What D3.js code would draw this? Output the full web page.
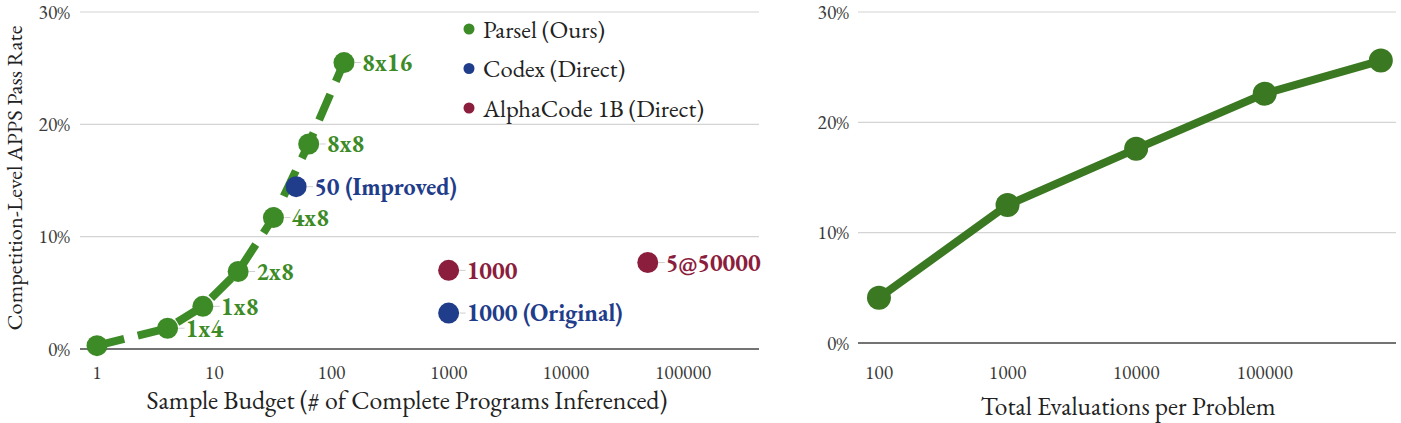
<!DOCTYPE html>
<html>
<head>
<meta charset="utf-8">
<script src="https://cdn.jsdelivr.net/npm/d3@7"></script>
<style>
  html, body { margin: 0; padding: 0; background: #fff; }
  svg { display: block; font-family: "EB Garamond", Garamond, "Liberation Serif", serif; }
</style>
</head>
<body>
<svg id="chart" width="1401" height="423"></svg>
<script>
  // left panel data
  var parselBudget = [1, 4, 8, 16, 32, 64, 128];
  var parselRate = [0.003, 0.0185, 0.038, 0.069, 0.117, 0.1825, 0.255];
  var parselLabels = ["", "1x4", "1x8", "2x8", "4x8", "8x8", "8x16"];

  var codexBudget = [50, 1000];
  var codexRate = [0.1445, 0.032];
  var codexLabels = ["50 (Improved)", "1000 (Original)"];

  var alphaBudget = [1000, 50000];
  var alphaRate = [0.070, 0.077];
  var alphaLabels = ["1000", "5@50000"];

  var leftTicksX = [1, 10, 100, 1000, 10000, 100000];
  var yTicks = [0, 0.1, 0.2, 0.3];

  var legendNames = ["Parsel (Ours)", "Codex (Direct)", "AlphaCode 1B (Direct)"];

  // right panel data
  var evalTotals = [100, 1000, 10000, 100000, 800000];
  var evalRate = [0.041, 0.125, 0.176, 0.226, 0.256];
  var rightTicksX = [100, 1000, 10000, 100000];

  var green = "#3d8b27", blue = "#1f3d8a", crimson = "#8b1d3d", darkGreen = "#3a7821";
  var legendColors = [green, blue, crimson];

  var svg = d3.select("#chart");
  var pct = function(d){ return Math.round(d * 100) + "%"; };

  //---------------- left chart ----------------
  var xL = d3.scaleLog().domain([0.716, 444600]).range([80, 759]);
  var yL = d3.scaleLinear().domain([0, 0.30]).range([349, 12]);

  var gL = svg.append("g");

  gL.selectAll("line.grid").data(yTicks.slice(1)).enter().append("line")
    .attr("class", "grid")
    .attr("x1", xL.range()[0]).attr("x2", xL.range()[1])
    .attr("y1", yL).attr("y2", yL)
    .style("stroke", "#d4d4d4").style("stroke-width", 1.2);

  gL.append("line")
    .attr("x1", xL.range()[0]).attr("x2", xL.range()[1])
    .attr("y1", yL(0)).attr("y2", yL(0))
    .style("stroke", "#444").style("stroke-width", 1.5);

  gL.selectAll("text.ytick").data(yTicks).enter().append("text")
    .attr("x", 70).attr("y", yL).attr("dy", "0.35em")
    .attr("text-anchor", "end")
    .attr("font-size", "19.5px").attr("fill", "#3a3a3a")
    .text(pct);

  gL.selectAll("text.xtick").data(leftTicksX).enter().append("text")
    .attr("x", xL).attr("y", 372).attr("dy", "0.35em")
    .attr("text-anchor", "middle")
    .attr("font-size", "19.5px").attr("fill", "#3a3a3a")
    .text(function(d){ return d; });

  gL.append("text")
    .attr("x", 407).attr("y", 400).attr("dy", "0.35em")
    .attr("text-anchor", "middle").attr("font-size", "25.8px").attr("fill", "#222")
    .text("Sample Budget (# of Complete Programs Inferenced)");

  gL.append("text")
    .attr("transform", "translate(15,178) rotate(-90)")
    .attr("dy", "0.3em")
    .attr("text-anchor", "middle").attr("font-size", "22.5px").attr("fill", "#222")
    .text("Competition-Level APPS Pass Rate");

  // dashed parsel curve
  var parselPts = parselBudget.map(function(b, i){ return [b, parselRate[i]]; });
  var lineL = d3.line().x(function(d){ return xL(d[0]); }).y(function(d){ return yL(d[1]); });
  gL.append("path").datum(parselPts)
    .attr("d", lineL)
    .style("fill", "none").style("stroke", green)
    .style("stroke-width", 8).style("stroke-dasharray", "28 14");

  function drawSeries(xs, ys, labels, color) {
    var pts = xs.map(function(b, i){ return {x: b, y: ys[i], label: labels[i]}; });
    var g = gL.append("g");
    g.selectAll("line.lead").data(pts.filter(function(p){ return p.label; })).enter().append("line")
      .attr("x1", function(p){ return xL(p.x) + 11; })
      .attr("x2", function(p){ return xL(p.x) + 17; })
      .attr("y1", function(p){ return yL(p.y); })
      .attr("y2", function(p){ return yL(p.y); })
      .style("stroke", "#cfcfcf").style("stroke-width", 1);
    g.selectAll("circle").data(pts).enter().append("circle")
      .attr("cx", function(p){ return xL(p.x); })
      .attr("cy", function(p){ return yL(p.y); })
      .attr("r", 10.5).style("fill", color);
    g.selectAll("text").data(pts).enter().append("text")
      .attr("x", function(p){ return xL(p.x) + 18; })
      .attr("y", function(p){ return yL(p.y); })
      .attr("dy", "0.35em")
      .attr("font-size", "24px").attr("font-weight", "bold").attr("fill", color)
      .text(function(p){ return p.label; });
  }
  drawSeries(parselBudget, parselRate, parselLabels, green);
  drawSeries(codexBudget, codexRate, codexLabels, blue);
  drawSeries(alphaBudget, alphaRate, alphaLabels, crimson);

  // legend
  var lg = gL.selectAll("g.legend").data(legendNames).enter().append("g")
    .attr("transform", function(d, i){ return "translate(469," + (29 + i * 39.5) + ")"; });
  lg.append("circle").attr("r", 5.5).style("fill", function(d, i){ return legendColors[i]; });
  lg.append("text").attr("x", 14).attr("dy", "0.35em")
    .attr("font-size", "24.6px").attr("fill", "#222")
    .text(function(d){ return d; });

  //---------------- right chart ----------------
  var xR = d3.scaleLog().domain([68.7, 1050000]).range([858, 1396]);
  var yR = d3.scaleLinear().domain([0, 0.30]).range([343, 12]);
  var gR = svg.append("g");

  gR.selectAll("line.grid").data(yTicks.slice(1)).enter().append("line")
    .attr("x1", xR.range()[0]).attr("x2", xR.range()[1])
    .attr("y1", yR).attr("y2", yR)
    .style("stroke", "#d4d4d4").style("stroke-width", 1.2);

  gR.append("line")
    .attr("x1", xR.range()[0]).attr("x2", xR.range()[1])
    .attr("y1", yR(0)).attr("y2", yR(0))
    .style("stroke", "#444").style("stroke-width", 1.5);

  gR.selectAll("text.ytick").data(yTicks).enter().append("text")
    .attr("x", 849).attr("y", yR).attr("dy", "0.35em")
    .attr("text-anchor", "end")
    .attr("font-size", "19.5px").attr("fill", "#3a3a3a")
    .text(pct);

  gR.selectAll("text.xtick").data(rightTicksX).enter().append("text")
    .attr("x", xR).attr("y", 372).attr("dy", "0.35em")
    .attr("text-anchor", "middle")
    .attr("font-size", "19.5px").attr("fill", "#3a3a3a")
    .text(function(d){ return d; });

  gR.append("text")
    .attr("x", 1128).attr("y", 406).attr("dy", "0.35em")
    .attr("text-anchor", "middle").attr("font-size", "25.5px").attr("fill", "#222")
    .text("Total Evaluations per Problem");

  var evalPts = evalTotals.map(function(t, i){ return [t, evalRate[i]]; });
  var lineR = d3.line().x(function(d){ return xR(d[0]); }).y(function(d){ return yR(d[1]); });
  gR.append("path").datum(evalPts)
    .attr("d", lineR)
    .style("fill", "none").style("stroke", darkGreen)
    .style("stroke-width", 8).style("stroke-linejoin", "round");

  gR.selectAll("circle").data(evalPts).enter().append("circle")
    .attr("cx", function(d){ return xR(d[0]); })
    .attr("cy", function(d){ return yR(d[1]); })
    .attr("r", 12).style("fill", darkGreen);
</script>
</body>
</html>
